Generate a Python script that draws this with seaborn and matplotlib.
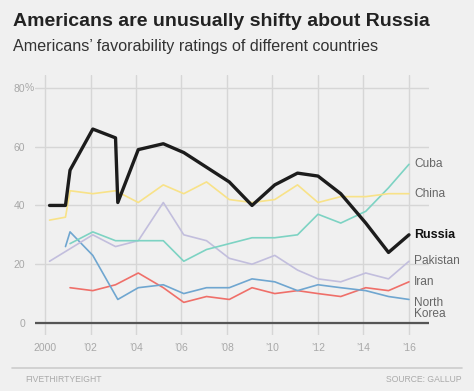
import matplotlib
matplotlib.use("Agg")
import matplotlib.pyplot as plt
import seaborn as sns
import pandas as pd

# Gallup favorability ratings
russia_years = [2000.2, 2000.9, 2001.1, 2002.1, 2003.1, 2003.2, 2004.1, 2005.2, 2006.1, 2007.1,
                2008.1, 2009.1, 2010.1, 2011.1, 2012.0, 2013.0, 2014.1, 2015.1, 2016.0]
russia = [40, 40, 52, 66, 63, 41, 59, 61, 58, 53, 48, 40, 47, 51, 50, 44, 34, 24, 30]

china_years = [2000.2, 2000.9, 2001.1, 2002.1, 2003.1, 2004.1, 2005.2, 2006.1, 2007.1, 2008.1,
               2009.1, 2010.1, 2011.1, 2012.0, 2013.0, 2014.1, 2015.1, 2016.0]
china = [35, 36, 45, 44, 45, 41, 47, 44, 48, 42, 41, 42, 47, 41, 43, 43, 44, 44]

cuba_years = [2001.1, 2002.1, 2003.1, 2004.1, 2005.2, 2006.1, 2007.1, 2008.1, 2009.1, 2010.1,
              2011.1, 2012.0, 2013.0, 2014.1, 2015.1, 2016.0]
cuba = [27, 31, 28, 28, 28, 21, 25, 27, 29, 29, 30, 37, 34, 38, 46, 54]

pakistan_years = [2000.2, 2002.1, 2003.1, 2004.1, 2005.2, 2006.1, 2007.1, 2008.1, 2009.1, 2010.1,
                  2011.1, 2012.0, 2013.0, 2014.1, 2015.1, 2016.0]
pakistan = [21, 30, 26, 28, 41, 30, 28, 22, 20, 23, 18, 15, 14, 17, 15, 21]

nkorea_years = [2000.9, 2001.1, 2002.1, 2003.2, 2004.1, 2005.2, 2006.1, 2007.1, 2008.1, 2009.1,
                2010.1, 2011.1, 2012.0, 2013.0, 2014.1, 2015.1, 2016.0]
nkorea = [26, 31, 23, 8, 12, 13, 10, 12, 12, 15, 14, 11, 13, 12, 11, 9, 8]

iran_years = [2001.1, 2002.1, 2003.1, 2004.1, 2005.2, 2006.1, 2007.1, 2008.1, 2009.1, 2010.1,
              2011.1, 2012.0, 2013.0, 2014.1, 2015.1, 2016.0]
iran = [12, 11, 13, 17, 12, 7, 9, 8, 12, 10, 11, 10, 9, 12, 11, 14]

x_ticks = [2000, 2002, 2004, 2006, 2008, 2010, 2012, 2014, 2016]
x_labels = ["2000", "\u201902", "\u201904", "\u201906", "\u201908", "\u201910", "\u201912", "\u201914", "\u201916"]
y_ticks = [0, 20, 40, 60, 80]
y_labels = ["0", "20", "40", "60", "80"]

bg = "#f0f0f0"
sns.set_style("white")
plt.rcParams["font.family"] = ["Liberation Sans", "DejaVu Sans"]

fig = plt.figure(figsize=(4.74, 3.91), dpi=100, facecolor=bg)
ax = fig.add_axes([35 / 474, 1 - 335 / 391, (429 - 35) / 474, (335 - 75) / 391])
ax.set_facecolor(bg)

# (name, years, values, color, width, label offset px)
series = [
    ("Iran", iran_years, iran, "#ef6f69", 1.2, 0),
    ("North\nKorea", nkorea_years, nkorea, "#6fa6d0", 1.2, -9),
    ("Pakistan", pakistan_years, pakistan, "#c2bedd", 1.2, 0),
    ("Cuba", cuba_years, cuba, "#7dd3c3", 1.2, 0),
    ("China", china_years, china, "#f8e288", 1.2, 0),
    ("Russia", russia_years, russia, "#1c1c1c", 2.4, 0),
]

for name, yrs, vals, col, lw, dy in series:
    df = pd.DataFrame({"year": yrs, "fav": vals})
    sns.lineplot(data=df, x="year", y="fav", color=col, lw=lw, ax=ax, zorder=5)
    bold = name == "Russia"
    ax.annotate(name, xy=(yrs[-1], vals[-1]), xytext=(5, dy), textcoords="offset pixels",
                ha="left", va="center", fontsize=9 if bold else 8.6,
                fontweight="bold" if bold else "normal",
                color="#111111" if bold else "#666666", linespacing=0.95,
                annotation_clip=False)

ax.set_xlim(1999.56, 2016.88)
ax.set_ylim(-4.1, 84.4)
ax.set_xticks(x_ticks)
ax.set_xticklabels(x_labels)
ax.set_yticks(y_ticks)
ax.set_yticklabels(y_labels)
ax.set_xlabel("")
ax.set_ylabel("")
ax.grid(True, color="#d6d6d6", lw=1.0)
ax.axhline(0, color="#555555", lw=1.6, zorder=3)
for s in ax.spines.values():
    s.set_visible(False)
ax.tick_params(axis="both", length=0, labelsize=7.5, labelcolor="#a8a8a8")
ax.tick_params(axis="y", pad=7)
ax.tick_params(axis="x", pad=6)
ax.annotate("%", xy=(0, 80), xycoords=("axes fraction", "data"), xytext=(-10.5, 0),
            textcoords="offset pixels", ha="left", va="center", fontsize=7.5, color="#a8a8a8")

# titles
fig.text(13 / 474, 1 - 21 / 391, "Americans are unusually shifty about Russia",
         fontsize=14, fontweight="bold", color="#222222", va="center", ha="left")
fig.text(13 / 474, 1 - 46 / 391, "Americans\u2019 favorability ratings of different countries",
         fontsize=11.6, color="#333333", va="center", ha="left")

# footer
fig.add_artist(plt.Line2D([12 / 474, 462 / 474], [1 - 368 / 391] * 2, color="#cccccc", lw=1.2))
fig.text(25 / 474, 1 - 379 / 391, "FIVETHIRTYEIGHT", fontsize=6.2, color="#aaaaaa",
         va="center", ha="left")
fig.text(462 / 474, 1 - 379 / 391, "SOURCE: GALLUP", fontsize=6.2, color="#aaaaaa",
         va="center", ha="right")

fig.savefig("out.png", dpi=100, facecolor=bg)
